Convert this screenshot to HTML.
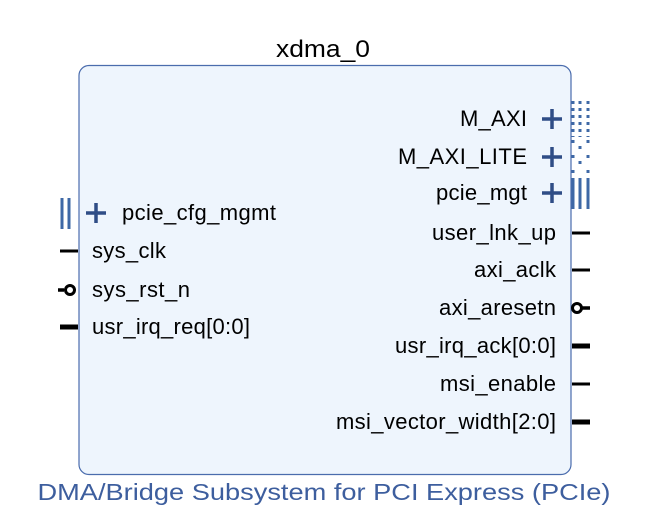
<!DOCTYPE html>
<html><head><style>body{margin:0;background:#fff}svg{display:block}</style></head>
<body>
<svg width="657" height="531" viewBox="0 0 657 531" xmlns="http://www.w3.org/2000/svg" font-family="Liberation Sans, Arial, sans-serif">
<rect x="79" y="65.5" width="492" height="409" rx="10" fill="#eef5fd" stroke="#4a6cad" stroke-width="1.2"/>
<text x="276" y="57" font-size="24" fill="#000" textLength="94" lengthAdjust="spacingAndGlyphs">xdma_0</text>
<text x="324" y="500" font-size="23" text-anchor="middle" fill="#3d5e9e" textLength="573" lengthAdjust="spacingAndGlyphs">DMA/Bridge Subsystem for PCI Express (PCIe)</text>
<g font-size="22" fill="#000" lengthAdjust="spacingAndGlyphs">
<text x="122" y="220" textLength="154">pcie_cfg_mgmt</text>
<text x="92" y="258" textLength="74">sys_clk</text>
<text x="92" y="297" textLength="98">sys_rst_n</text>
<text x="92" y="334" textLength="158">usr_irq_req[0:0]</text>
<text x="460" y="126" textLength="67">M_AXI</text>
<text x="398" y="164" textLength="129">M_AXI_LITE</text>
<text x="436" y="200" textLength="91">pcie_mgt</text>
<text x="432" y="240" textLength="124">user_lnk_up</text>
<text x="474" y="277" textLength="82">axi_aclk</text>
<text x="439" y="315" textLength="117">axi_aresetn</text>
<text x="395" y="353" textLength="161">usr_irq_ack[0:0]</text>
<text x="440" y="391" textLength="116">msi_enable</text>
<text x="336" y="429" textLength="220">msi_vector_width[2:0]</text>
</g>
<g stroke="#2f4d86" stroke-width="3.5">
<path d="M86 213h20M96 203v20"/>
<path d="M542 119h20M552 109v20"/>
<path d="M542 157h20M552 147v20"/>
<path d="M542 193h20M552 183v20"/>
</g>
<g stroke="#3e68a6" stroke-width="3">
<path d="M62 198v31M69 198v31"/>
</g>
<g stroke="#000">
<path d="M60 251h18" stroke-width="3"/>
<path d="M58 290h6" stroke-width="3.5"/>
<circle cx="70" cy="290" r="4.5" fill="#fff" stroke-width="3"/>
<path d="M60 327h18" stroke-width="5"/>
</g>
<g stroke="#3e68a6" stroke-width="3">
<path d="M573 101v36M580 101v36M588 101v36" stroke-dasharray="3 4"/>
<path d="M573 140v36M588 140v36" stroke-dasharray="3 12"/>
<path d="M580 146v30" stroke-dasharray="3 12"/>
<path d="M573 178v31M580 178v31M588 178v31"/>
</g>
<g stroke="#000">
<path d="M572 233h18" stroke-width="3"/>
<path d="M572 270h18" stroke-width="3"/>
<circle cx="577" cy="308" r="4.5" fill="#fff" stroke-width="3"/>
<path d="M582 308h8" stroke-width="3.5"/>
<path d="M572 346h18" stroke-width="5"/>
<path d="M572 384h18" stroke-width="3"/>
<path d="M572 422h18" stroke-width="5"/>
</g>
</svg>
</body></html>
